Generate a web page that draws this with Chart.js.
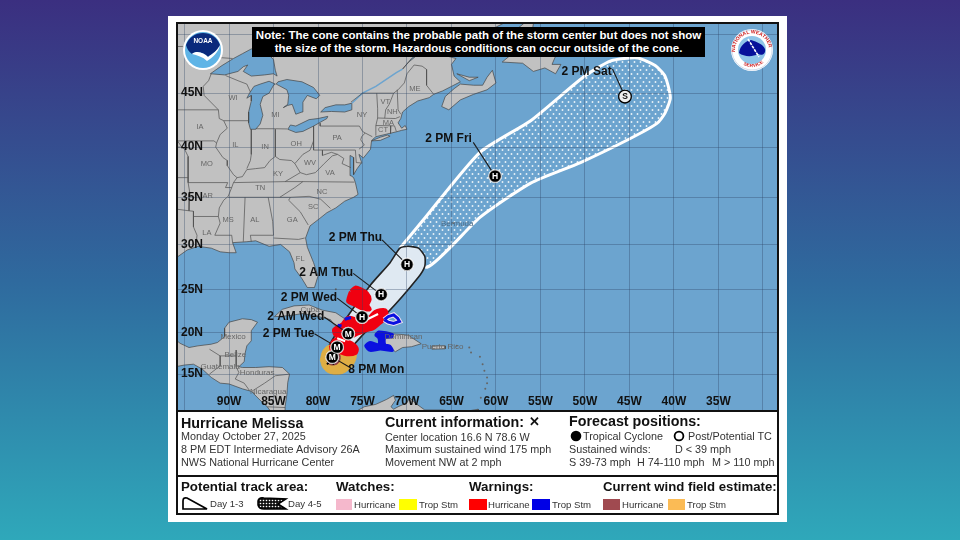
<!DOCTYPE html>
<html><head><meta charset="utf-8">
<script src="https://cdn.jsdelivr.net/npm/chart.js@4"></script>
<style>
html,body{margin:0;padding:0;width:960px;height:540px;overflow:hidden;background:linear-gradient(180deg,#3b2f80 0%,#2f6a9e 52%,#2fa8ba 100%);font-family:"Liberation Sans",Arial,sans-serif}
#stage{position:absolute;left:0;top:0;width:960px;height:540px;filter:blur(.4px)}
#panel{position:absolute;left:168px;top:16px;width:619px;height:506px;background:#fff}
canvas{position:absolute;left:0;top:0}
.box{position:absolute;border:2px solid #111;box-sizing:border-box}
.t{position:absolute;white-space:nowrap;line-height:14px;color:#333;font-size:10.8px}
.b{font-weight:bold;color:#111;font-size:14.3px}
.s{position:absolute;height:11px;top:499px}
.k{font-size:9.6px}
#note{position:absolute;left:252px;top:27px;width:453px;height:30px;background:#000;color:#fff;font-weight:bold;font-size:11.5px;line-height:13px;text-align:center;padding-top:2px;box-sizing:border-box;white-space:nowrap;font-family:"Liberation Sans",Arial,sans-serif}
svg{position:absolute;overflow:visible}
</style></head><body>
<div id="stage">
<div id="panel"></div>
<canvas id="c" width="960" height="540"></canvas>
<div class="box" style="left:176px;top:22px;width:603px;height:390px"></div>
<div class="box" style="left:176px;top:410px;width:603px;height:67px"></div>
<div class="box" style="left:176px;top:475px;width:603px;height:40px"></div>
<div id="note">Note: The cone contains the probable path of the storm center but does not show<br>the size of the storm. Hazardous conditions can occur outside of the cone.</div>

<svg style="left:183px;top:30px" width="40" height="40" viewBox="0 0 40 40">
<circle cx="20" cy="20" r="20" fill="#fff"/><circle cx="20" cy="20" r="18" fill="#5fb4e6"/>
<path d="M3 15A18 18 0 0 1 37 15C36 20 30 23 25 27C21 23 14 20 9 24C6 22 4 19 3 15Z" fill="#0a2a7c"/>
<path d="M9 24C14 20 21 23 25 27C29 24 34 21 37 15C36 22 29 28 24 31C20 27 14 25 9 24Z" fill="#fff"/>
<text x="20" y="13" font-size="6.5" font-weight="bold" fill="#fff" text-anchor="middle" font-family="Liberation Sans">NOAA</text>
</svg>
<svg style="left:731px;top:29px" width="42" height="42" viewBox="0 0 42 42">
<circle cx="21" cy="21" r="21" fill="#fff"/><circle cx="21" cy="21" r="20" fill="none" stroke="#c8d4e8" stroke-width=".8"/>
<defs><path id="arc" d="M4.2 24A17 17 0 1 1 37.8 24"/><path id="arc2" d="M6 29A17 17 0 0 0 36 29"/></defs>
<text font-size="5" font-weight="bold" fill="#d02020" font-family="Liberation Sans"><textPath href="#arc" startOffset="2%">NATIONAL WEATHER</textPath></text>
<text font-size="5" font-weight="bold" fill="#d02020" font-family="Liberation Sans"><textPath href="#arc2" startOffset="25%">SERVICE</textPath></text>
<circle cx="21" cy="21" r="14" fill="#8fc4e8"/>
<path d="M8 24C9 16 15 12 20 11C26 13 32 15 34 20C35 25 31 27 27 25C22 28 13 28 8 24Z" fill="#06109a"/>
<path d="M17 10L28 28" stroke="#fff" stroke-width="1.6" stroke-dasharray="3 1"/>
</svg>

<div class="t b" style="left:181px;top:416px">Hurricane Melissa</div>
<div class="t" style="left:181px;top:429px">Monday October 27, 2025</div>
<div class="t" style="left:181px;top:442px">8 PM EDT Intermediate Advisory 26A</div>
<div class="t" style="left:181px;top:455px">NWS National Hurricane Center</div>

<div class="t b" style="left:385px;top:415px">Current information:</div>
<div class="t b" style="left:529px;top:415px;font-size:13px">✕</div>
<div class="t" style="left:385px;top:430px">Center location 16.6 N 78.6 W</div>
<div class="t" style="left:385px;top:442px">Maximum sustained wind 175 mph</div>
<div class="t" style="left:385px;top:455px">Movement NW at 2 mph</div>

<div class="t b" style="left:569px;top:414px">Forecast positions:</div>
<svg style="left:570px;top:430px" width="13" height="13"><circle cx="6" cy="6" r="5.3" fill="#000"/></svg>
<div class="t" style="left:583px;top:429px">Tropical Cyclone</div>
<svg style="left:673px;top:430px" width="13" height="13"><circle cx="6" cy="6" r="4.4" fill="#fff" stroke="#000" stroke-width="1.8"/></svg>
<div class="t" style="left:688px;top:429px">Post/Potential TC</div>
<div class="t" style="left:569px;top:442px">Sustained winds:</div>
<div class="t" style="left:675px;top:442px">D &lt; 39 mph</div>
<div class="t" style="left:569px;top:455px">S 39-73 mph</div>
<div class="t" style="left:637px;top:455px">H 74-110 mph</div>
<div class="t" style="left:712px;top:455px">M &gt; 110 mph</div>

<div class="t b" style="left:181px;top:480px;font-size:13.3px">Potential track area:</div>
<svg style="left:181px;top:496px" width="28" height="15"><path d="M2 13V5Q2 1 6 2L26 13Z" fill="#fff" stroke="#000" stroke-width="1.7"/></svg>
<div class="t k" style="left:210px;top:497px">Day 1-3</div>
<svg style="left:256px;top:496px" width="32" height="15">
<defs><pattern id="dt" width="3" height="3" patternUnits="userSpaceOnUse"><rect width="3" height="3" fill="#111"/><circle cx="1.5" cy="1.5" r=".8" fill="#fff"/></pattern></defs>
<path d="M2 9V5Q3 1 8 2L30 3L22 8L30 13L8 13Q3 13 2 9Z" fill="url(#dt)" stroke="#000" stroke-width="1.5"/></svg>
<div class="t k" style="left:288px;top:497px">Day 4-5</div>

<div class="t b" style="left:336px;top:480px;font-size:13.3px">Watches:</div>
<div class="s" style="left:336px;width:16px;background:#f5b8cc"></div><div class="t k" style="left:354px;top:498px">Hurricane</div>
<div class="s" style="left:399px;width:18px;background:#ffff00"></div><div class="t k" style="left:419px;top:498px">Trop Stm</div>
<div class="t b" style="left:469px;top:480px;font-size:13.3px">Warnings:</div>
<div class="s" style="left:469px;width:18px;background:#ff0000"></div><div class="t k" style="left:488px;top:498px">Hurricane</div>
<div class="s" style="left:532px;width:18px;background:#0000e6"></div><div class="t k" style="left:552px;top:498px">Trop Stm</div>
<div class="t b" style="left:603px;top:480px;font-size:13.2px">Current wind field estimate:</div>
<div class="s" style="left:603px;width:17px;background:#a04a50"></div><div class="t k" style="left:622px;top:498px">Hurricane</div>
<div class="s" style="left:668px;width:17px;background:#fbbb55"></div><div class="t k" style="left:687px;top:498px">Trop Stm</div>
</div>
<script>
// ---------- axis ----------
const lonTicks=[-95,-90,-85,-80,-75,-70,-65,-60,-55,-50,-45,-40,-35,-30];
const lonLabelled=[-90,-85,-80,-75,-70,-65,-60,-55,-50,-45,-40,-35];
const latTicks=[15,20,25,30,35,40,45,50];
const latLabelled=[15,20,25,30,35,40,45];
// ---------- land (lon,lat) ----------
const northAmerica=[[-97,53],[-97,15.7],[-95,16.1],[-94,16.2],[-93,15.6],[-92,14.6],[-91,13.9],[-90,13.8],[-88.5,13.2],[-87.5,12.9],[-86.5,11.8],[-85.7,11],[-84.9,9.8],[-83,9],[-83.6,10.5],[-83.7,11],[-83.5,12.5],[-83.4,14],[-83.2,15],[-84,15.8],[-85.5,15.9],[-87,15.8],[-88.5,15.8],[-88.9,15.9],[-88.3,16.5],[-88.2,17.5],[-88,18.4],[-87.5,19],[-87.5,20.2],[-86.8,21.2],[-87.5,21.5],[-88.5,21.6],[-90,21.2],[-90.5,20.5],[-90.5,19.5],[-91.3,18.8],[-92,18.6],[-93.5,18.4],[-94.5,18.2],[-95.5,18.7],[-96.2,19.3],[-97,20.5],[-97.5,22],[-97.7,24],[-97.3,26],[-97.3,27.5],[-96,28.5],[-94.7,29.4],[-93.5,29.8],[-92,29.6],[-91,29.2],[-90,29.1],[-89.2,29.1],[-89.6,30.2],[-88,30.3],[-87,30.4],[-85.5,29.8],[-84.2,30],[-83.2,29.2],[-82.7,28],[-82.6,27.3],[-81.8,26.2],[-81.2,25.2],[-80.4,25.2],[-80,26.5],[-80.5,28],[-81.2,29.7],[-81.4,30.7],[-80.9,32],[-79.8,32.8],[-79,33.4],[-78,33.9],[-77,34.6],[-76,35],[-75.5,35.3],[-75.8,36.5],[-76,37],[-76.3,37.2],[-76.4,38],[-76.4,39.2],[-76,39],[-76,37.3],[-75.6,37.9],[-75.1,38.5],[-75.4,39.3],[-74.9,38.95],[-74.1,39.8],[-74,40.5],[-73.9,40.7],[-73.5,41],[-72,41.3],[-71,41.5],[-70.6,41.6],[-70,41.7],[-70.2,42.05],[-70.6,41.8],[-71,42.3],[-70.7,42.7],[-70.5,43.3],[-69.8,43.8],[-68.8,44.3],[-67.5,44.6],[-67,44.9],[-66,45.2],[-65,45.6],[-64.5,45.8],[-64,46],[-64.7,46.5],[-65,47.5],[-64.5,48],[-65.5,48.2],[-64.3,48.6],[-65,49.2],[-67,49.3],[-68.5,48.5],[-69.8,47.7],[-70.5,47.1],[-69.5,48],[-68,48.8],[-67,49.4],[-65,50.2],[-61,50.2],[-58,51.3],[-56,52],[-56,53]];
const novaScotia=[[-66.1,43.8],[-65.3,43.5],[-64,44.4],[-62.5,44.9],[-61,45.3],[-60,45.9],[-60.4,47],[-61,46.4],[-61.5,45.7],[-62.5,45.7],[-64,45.8],[-64.7,45.4],[-65.7,44.7]];
const newfoundland=[[-59.3,47.7],[-58,48.5],[-58.5,49],[-57.5,50.5],[-55.6,51.6],[-56,50],[-54,49.5],[-53,48.7],[-53.7,47.5],[-52.7,47.5],[-53.3,46.7],[-54.5,47.2],[-55.8,46.9],[-57,47.6]];
const peiIsland=[[-64.4,46.7],[-63,46.4],[-62,46.4],[-63,46.1]];
const anticosti=[[-64.2,49.9],[-62,49.4],[-63,49.3]];
const longIsland=[[-74,40.6],[-73,40.95],[-72.2,41.15],[-71.9,41.05],[-73,40.65]];
const cuba=[[-84.9,21.85],[-84,22.7],[-82.7,23.1],[-81,23.2],[-79.5,22.6],[-78,22.3],[-77,21.6],[-75.6,20.9],[-74.2,20.2],[-75,19.9],[-77.7,19.85],[-77.2,20.6],[-78.2,20.9],[-78.6,21.5],[-80.5,22],[-81.8,22.2],[-83,22],[-84,21.9]];
const jamaica=[[-78.3,18.3],[-77,18.45],[-76.3,18.1],[-77,17.8],[-78.2,18]];
const hispaniola=[[-74.4,18.4],[-72.8,18.5],[-72.7,19],[-73.4,19.7],[-72.3,19.85],[-70.5,19.75],[-69.8,19.65],[-69.2,19.2],[-68.4,18.65],[-69.5,18.3],[-70.5,18.2],[-71.3,17.7],[-71.8,18.1],[-73,18.1],[-74.4,18.2]];
const puertoRico=[[-67.2,18.4],[-65.7,18.4],[-65.7,18.05],[-67.2,18]];
const southAmerica=[[-76,9],[-75.6,10.5],[-74.8,11],[-73.5,11.3],[-72.3,11.9],[-71.5,12.4],[-71.3,11.8],[-71.8,11],[-71.5,10.7],[-71,11],[-70,11.5],[-69.7,12.1],[-69,11.4],[-68,10.6],[-66,10.6],[-64,10.3],[-62,10.7],[-62,9]];
const islandLon=[-78,-77.3,-75.5,-76,-74,-73,-63,-62.8,-61.8,-61.5,-61.3,-61,-61,-61.2,-61.7,-64.8,-64.4];
const islandLat=[25,26.5,24,24.5,22.8,21.8,18.2,17.6,17.1,16.2,15.4,14.6,13.9,13.2,12.1,32.3,18.4];
// ---------- lakes ----------
const superior=[[-92.1,46.7],[-90.5,46.6],[-89,46.9],[-88.4,47.3],[-87.9,47.45],[-88.4,46.9],[-87.5,46.5],[-86,46.6],[-85,46.7],[-84.6,46.5],[-84.8,47],[-85,47.9],[-86,48.7],[-87.5,48.8],[-88.5,48.4],[-89.5,48],[-90.8,47.4]];
const michigan=[[-87.6,41.7],[-87,41.7],[-86.5,42.2],[-86.2,43],[-86.5,44],[-86.2,44.7],[-85.5,45],[-85,45.7],[-84.8,45.8],[-85.5,46.05],[-86.5,45.8],[-87.2,45.6],[-87.7,45],[-88,44.55],[-87.5,44.8],[-87.5,44.3],[-87.8,43.3],[-87.8,42.3]];
const huron=[[-84.7,45.8],[-83.5,45.3],[-83.3,44.8],[-83.4,44],[-83.9,43.7],[-83.4,43.9],[-82.9,44],[-82.5,43.1],[-81.8,43.3],[-81.7,44.2],[-81.2,44.8],[-80.2,44.5],[-79.8,44.8],[-80.5,45.5],[-81.8,46],[-83.5,46.2],[-84.5,46]];
const erie=[[-83.4,41.7],[-82.5,41.4],[-81.7,41.5],[-80.5,42],[-79,42.7],[-78.9,42.9],[-80,42.7],[-81,42.6],[-82.5,42],[-83.1,42.1]];
const ontario=[[-79.7,43.3],[-78.5,43.35],[-77,43.3],[-76.2,43.5],[-76.2,44.1],[-77,43.95],[-78,43.95],[-79.2,43.7]];
const stLawrence=[[-76.2,44.1],[-75,45],[-73.5,45.6],[-71.2,46.8],[-70.5,47.1]];
// ---------- borders ----------
const borders=[
[[-97,49],[-95.2,49],[-94.6,48.7],[-93,48.6],[-91.5,48.1],[-89.6,48]],
[[-76.3,44.2],[-75,45],[-74.7,45],[-71.5,45],[-71,45.3],[-70.3,45.9],[-70,46.7],[-69.2,47.45],[-68.3,47.35],[-67.8,47.07],[-67.8,45.7],[-67.4,45.3],[-67,44.9]],
[[-96.5,43.5],[-91.2,43.5]],
[[-92,46.7],[-92.3,46.1],[-92.9,45.6],[-92.8,44.8],[-91.2,43.5],[-91.1,42.7],[-90.6,42.5],[-90.2,41.8],[-91,41.2],[-91.4,40.4],[-91.5,40],[-90.7,39],[-90.2,38.7],[-90.2,38.2],[-89.5,37.3],[-89.1,37],[-89.5,36.5],[-89.7,36],[-90.1,35.1],[-90.6,34.7],[-91.1,33.9],[-91.2,33],[-91,32.3],[-91.6,31],[-89.7,31],[-89.6,30.2]],
[[-95.8,40.6],[-91.7,40.6],[-91.4,40.4]],
[[-94.6,36.5],[-90.15,36.5],[-90.4,36],[-89.7,36]],
[[-94.6,39.1],[-94.6,36.5],[-94.4,35.4],[-94.5,33.6],[-94,33.55],[-94,33],[-94,31.9],[-93.6,31],[-93.7,30.1],[-93.8,29.7]],
[[-94,33],[-91.2,33]],[[-94.5,33.6],[-97,33.9]],[[-95.3,40],[-97,40]],[[-95.8,40.6],[-96,41.5],[-96.5,42.5],[-96.5,45.3]],[[-94.6,37],[-97,37]],[[-94.6,39.1],[-95,39.8],[-95.3,40],[-95.8,40.6]],
[[-90.4,46.55],[-89,46.1],[-88,45.8],[-87.6,45.1]],[[-90.6,42.5],[-87.8,42.5]],[[-87.5,41.7],[-87.5,39.3],[-87.6,38.7],[-88,37.9]],[[-87,41.75],[-84.8,41.75],[-83.45,41.73]],[[-84.8,41.7],[-84.8,39.1]],
[[-89.1,37],[-88.5,37.1],[-88,37.8],[-87,37.9],[-86,38],[-85.4,38.7],[-84.8,39.1],[-84.3,38.8],[-83,38.7],[-82.6,38.4],[-82,39],[-81.7,39.3],[-80.9,39.7],[-80.5,40.6]],
[[-80.5,42],[-80.5,39.72],[-75.8,39.72]],[[-79.76,42.27],[-79.76,42],[-75.35,42],[-75,41.5],[-74.7,41.35],[-75.1,41],[-75.2,40.7],[-74.8,40.2],[-75.4,39.8]],
[[-74.7,41.35],[-73.9,41]],[[-73.5,41.1],[-73.5,42.05],[-73.3,42.75],[-73.3,43.6],[-73.4,45]],[[-72.5,42.73],[-72.4,43.5],[-72,44],[-71.5,45]],[[-73.3,42.75],[-71.3,42.7],[-70.8,42.87]],
[[-73.5,42.05],[-71.4,42.02],[-71.2,41.5]],[[-71.8,42.02],[-71.85,41.3]],[[-70.7,43.1],[-71,43.5],[-71.1,45.3]],
[[-82,37.5],[-81.3,37.3],[-80.3,37.5],[-79.3,38.4],[-78.4,39.15],[-77.8,39.3]],[[-82.6,38.4],[-82,37.5],[-83.7,36.6]],[[-89.5,36.5],[-83.7,36.6],[-81.7,36.6],[-75.9,36.55]],
[[-77.8,39.3],[-77.1,38.9],[-77.3,38.4],[-76.3,38]],[[-79.5,39.7],[-79.5,39.2],[-78.5,39.5],[-77.8,39.3]],[[-75.8,39.72],[-75.7,38.5],[-75.05,38.45]],
[[-81.7,36.6],[-82.6,36],[-84.3,35]],[[-90.1,35],[-84.3,35],[-83.1,35],[-81,35.1],[-79.7,34.8],[-78.6,33.85]],[[-83.1,35],[-83.3,34.7],[-82,33.5],[-81.1,32.1]],
[[-85.6,35],[-85.1,32.5],[-85,31],[-87.6,31],[-87.5,30.3]],[[-85,30.7],[-82.2,30.55],[-81.5,30.7]],[[-88.2,35],[-88.4,30.3]],
[[-92.2,18],[-91,17.2],[-91,16],[-92.2,15]],[[-89.2,17.9],[-89.2,15.9]],[[-91,17.2],[-89.2,17.2]],[[-89.3,14.4],[-88.3,13.9],[-87.7,13]],[[-89.2,15.9],[-88.9,15.2],[-89.3,14.4]],[[-87.3,13],[-86,13.9],[-84.8,14.8],[-83.2,15]],[[-85.7,11],[-83.7,10.9]]
];
// ---------- cone ----------
const coneDay45=[[-70.8,29.6],[-68.2,32.6],[-61.8,39.5],[-56.1,42.5],[-50.2,46.4],[-47.1,47.8],[-44.1,48.05],[-42.1,47.4],[-41,46.5],[-40.4,44.6],[-41,43.2],[-41.9,42.25],[-44.9,40.83],[-50.5,38.5],[-56.1,36.45],[-61.8,32.9],[-67.7,27.5]];
const coneDay13=[[-78.3,17],[-79,17.85],[-77,21.4],[-74.1,25.5],[-71.9,28],[-70.8,29.6],[-69.9,29.8],[-68.7,29.6],[-68,28.7],[-68,27.6],[-68.7,26.4],[-72.2,22.3],[-74.7,20],[-77,17.3],[-77.7,16.5]];
// ---------- warnings and wind field ----------
const windStorm=[[-79.75,16.7],[-79.4,17.9],[-78.65,18.5],[-76.95,18.5],[-75.8,17.65],[-75.8,16.7],[-76.4,15.7],[-77.5,15],[-78.65,15.1],[-79.4,15.7]];
const windHurricane=[[-78.9,17.5],[-77.9,17.8],[-77.5,17],[-77.9,16.2],[-78.9,16.3]];
const hurricaneBahamas=[[-76.3,24.75],[-75.8,25.2],[-75.2,25],[-74.5,24.55],[-74.2,23.85],[-74.45,23.2],[-74.2,22.7],[-75.05,22.8],[-75.8,23.2],[-76.6,23.6],[-76.5,24.15]];
const hurricaneCuba=[[-77.3,20.9],[-76.6,21.7],[-75.6,21.5],[-74.35,21.6],[-73.6,22.4],[-72.45,22.6],[-72.35,21.8],[-73.2,21],[-73.8,20.5],[-74.5,20.3],[-75.45,19.9],[-76.6,19.4],[-77.9,19.55],[-78.2,20.3]];
const hurricaneJamaica=[[-78.55,18.5],[-78.1,19.1],[-77.15,19.1],[-76.2,18.7],[-75.65,18.1],[-75.8,17.55],[-76.75,17.4],[-77.7,17.7],[-78.45,17.9]];
const stormHaiti=[[-73.6,19.7],[-73.2,20.1],[-71.6,19.8],[-71.7,19.4],[-72.45,19.3],[-72.45,18.6],[-71.9,18.4],[-71.6,17.8],[-73,17.97],[-74.15,17.8],[-74.7,18.4],[-74.15,18.85],[-73.2,18.6],[-73.2,19.3]];
const stormTurks=[[-72.55,21.5],[-72.1,21.85],[-71.5,22.05],[-71.05,21.65],[-70.85,21.3],[-71.5,21.05],[-72.1,21.2],[-72.55,21.5]];
const stormCubaA=[[-77,21.55],[-76.3,21.75]];
const stormCubaB=[[-77.8,20.85],[-77.35,20.75]];
const coneGapA=[[-74.9,21.3],[-73.25,22.15]];
const coneGapB=[[-77.85,19.3],[-76.95,18.95]];
// ---------- storm positions ----------
const stormLabels=["8 PM Mon","2 PM Tue","2 AM Wed","2 PM Wed","2 AM Thu","2 PM Thu","2 PM Fri","2 PM Sat"];
const stormLetters=["M","M","M","H","H","H","H","S"];
const stormLon=[-78.4,-77.85,-76.6,-75.05,-72.9,-70,-60.1,-45.5];
const stormLat=[17.05,18.25,19.85,21.8,24.4,27.8,37.15,44.7];
const leaderLon=[-76.5,-80.4,-79.3,-77.85,-76.05,-72.8,-62.55,-46.9];
const leaderLat=[15.85,19.85,21.8,24,26.8,30.5,40.46,47.1];
const labelAlign=["left","right","right","right","right","right","right","right"];
const labelLon=[-76.6,-80.4,-79.3,-77.85,-76.05,-72.8,-62.7,-47];
const labelLat=[15.55,19.85,21.8,24.1,26.9,30.7,40.8,46.9];
const currentLon=[-78.6];const currentLat=[16.6];
// ---------- place labels ----------
const placeNames=["WI","IA","IL","IN","OH","MI","PA","NY","VT","NH","MA","CT","ME","MO","WV","VA","KY","TN","NC","SC","AR","MS","AL","GA","LA","FL","Mexico","Belize","Guatemala","Honduras","Nicaragua","Cuba","Dominican","Puerto Rico","Bermuda"];
const placeLon=[-89.55,-93.26,-89.3,-85.95,-82.45,-84.8,-77.85,-75.05,-72.45,-71.65,-72.1,-72.7,-69.1,-92.5,-80.9,-78.65,-84.5,-86.5,-79.55,-80.55,-92.4,-90.1,-87.1,-82.9,-92.5,-82,-89.55,-89.3,-91,-86.85,-85.6,-80.9,-70.4,-66,-64.35];
const placeLat=[44.55,41.95,40.2,40,40.3,43,40.85,43,44.2,43.3,42.3,41.65,45.4,38.4,38.5,37.5,37.4,36,35.55,34.05,35.1,32.6,32.6,32.6,31.2,28.45,19.45,17.3,15.85,15.1,12.9,22.6,19.5,18.3,32.2];

// ---------- mercator scale ----------
const Linear=Chart.LinearScale||Chart.registry.getScale('linear');
const merc=v=>Math.log(Math.tan(Math.PI/4+v*Math.PI/360));
const unmerc=m=>(2*Math.atan(Math.exp(m))-Math.PI/2)*180/Math.PI;
class MercatorScale extends Linear{
  getPixelForValue(v){const a=merc(this.min),b=merc(this.max);return this.bottom+(merc(v)-a)/(b-a)*(this.top-this.bottom);}
  getValueForPixel(p){const a=merc(this.min),b=merc(this.max);return unmerc(a+(this.bottom-p)/(this.bottom-this.top)*(b-a));}
}
MercatorScale.id='mercator';MercatorScale.defaults=Linear.defaults;
Chart.register(MercatorScale);

// ---------- helpers ----------
const pts=a=>a.map(p=>({x:p[0],y:p[1]}));
const closed=a=>pts(a.concat([a[0]]));
const LAND='#c1c1c1',COAST='#454545',OCEAN='#6ca4cf';
function poly(a,fillC,line,w,tension){return {data:closed(a),showLine:true,fill:'shape',backgroundColor:fillC,borderColor:line,borderWidth:w,pointRadius:0,tension:tension||0};}
function path(a,line,w){return {data:pts(a),showLine:true,fill:false,borderColor:line,borderWidth:w,pointRadius:0};}
const tile=document.createElement('canvas');tile.width=6;tile.height=8;
const tc=tile.getContext('2d');tc.fillStyle='rgba(255,255,255,.85)';
[[1.5,2],[4.5,6]].forEach(d=>{tc.beginPath();tc.arc(d[0],d[1],.95,0,7);tc.fill();});
const stipple=document.getElementById('c').getContext('2d').createPattern(tile,'repeat');

const ds=[];
[northAmerica,novaScotia,newfoundland,peiIsland,anticosti,longIsland,cuba,jamaica,hispaniola,puertoRico,southAmerica].forEach(a=>ds.push(poly(a,LAND,COAST,.7)));
[superior,michigan,huron,erie,ontario].forEach(a=>ds.push(poly(a,OCEAN,COAST,.7)));
ds.push(path(stLawrence,OCEAN,1.5));
borders.forEach(b=>ds.push(path(b,'#505050',.7)));
ds.push({data:islandLon.map((x,i)=>({x,y:islandLat[i]})),pointRadius:1,pointBackgroundColor:'#666',pointBorderWidth:0,showLine:false});
ds.push(poly(coneDay45,stipple,'#fff',3,.2));
ds.push(poly(coneDay13,'#dfe9f2','#222',1.6,.2));
ds.push(poly(windStorm,'#dfae44','#dfae44',1,.4));
ds.push(poly(windHurricane,'#8c3f42','#8c3f42',1,.4));
[hurricaneBahamas,hurricaneCuba,hurricaneJamaica].forEach(a=>ds.push(poly(a,'#f00010','#f00010',4,.3)));
ds.push(path(stormTurks,'#f2e4f0',5));ds.push(path(stormTurks,'#0a10e0',3));
ds.push(poly(stormHaiti,'#0a10e0','#0a10e0',2,.25));
ds.push(path(stormCubaA,'#0a10e0',3));ds.push(path(stormCubaB,'#0a10e0',3));
ds.push(path(coneGapA,'#fff',2.2));ds.push(path(coneGapB,'#fff',2.2));
stormLon.forEach((x,i)=>ds.push(path([[leaderLon[i],leaderLat[i]],[x,stormLat[i]]],'#1a1a1a',1.1)));
ds.push({data:currentLon.map((x,i)=>({x,y:currentLat[i]})),pointStyle:'crossRot',pointRadius:5,pointBorderColor:'#000',pointBorderWidth:2,showLine:false});
ds.push({data:stormLon.map((x,i)=>({x,y:stormLat[i]})),showLine:false,pointRadius:6.3,
  pointBackgroundColor:stormLetters.map(l=>l==='S'?'#f0f0f0':'#000'),pointBorderColor:stormLetters.map(l=>l==='S'?'#000':'rgba(255,255,255,.7)'),pointBorderWidth:1.2});
const stormIndex=ds.length-1;
ds.forEach((d,i)=>{d.order=-i;});

const mapPlugin={id:'mapPlugin',
 beforeDraw(ch){const a=ch.chartArea,c=ch.ctx;c.save();c.fillStyle=OCEAN;c.fillRect(a.left,a.top,a.width,a.height);c.restore();},
 afterDraw(ch){const c=ch.ctx,X=ch.scales.x,Y=ch.scales.y,a=ch.chartArea;
  c.save();c.beginPath();c.rect(a.left,a.top,a.width,a.height);c.clip();
  c.textBaseline='middle';c.textAlign='center';
  placeNames.forEach((n,i)=>{c.font=(n.length>2?'8':'7.5')+'px "Liberation Sans"';c.fillStyle=n==='Bermuda'?'#4a6a85':'#666';c.fillText(n,X.getPixelForValue(placeLon[i]),Y.getPixelForValue(placeLat[i]));});
  ch.getDatasetMeta(stormIndex).controller.draw();
  stormLabels.forEach((n,i)=>{c.font='bold 12px "Liberation Sans"';c.fillStyle='#111';c.textAlign=labelAlign[i];c.fillText(n,X.getPixelForValue(labelLon[i]),Y.getPixelForValue(labelLat[i]));});
  c.textAlign='center';
  stormLetters.forEach((n,i)=>{c.font='bold 8.5px "Liberation Sans"';c.fillStyle=n==='S'?'#111':'#fff';c.fillText(n,X.getPixelForValue(stormLon[i]),Y.getPixelForValue(stormLat[i])+.5);});
  c.restore();}
};
const gridColor='rgba(45,70,100,.35)';
new Chart(document.getElementById('c'),{
 type:'scatter',
 data:{datasets:ds},
 plugins:[mapPlugin],
 options:{responsive:false,animation:false,events:[],
  layout:{padding:{left:177,right:182,top:23,bottom:130}},
  plugins:{legend:{display:false},tooltip:{enabled:false},filler:{propagate:false}},
  scales:{
   x:{type:'linear',position:'bottom',min:-95.85,max:-28.3,
    afterBuildTicks:s=>{s.ticks=lonTicks.map(v=>({value:v}));},
    afterFit:s=>{s.height=0;s._computeLabelArea=()=>undefined;},
    grid:{color:gridColor,lineWidth:1,drawTicks:false,z:1},border:{display:false},
    ticks:{z:2,padding:-16,autoSkip:false,maxRotation:0,font:{family:'"Liberation Sans"',size:12,weight:'bold'},color:'#111',
      callback:v=>lonLabelled.includes(v)?(-v)+'W':''}},
   y:{type:'mercator',position:'left',min:10.6,max:50.9,
    afterBuildTicks:s=>{s.ticks=latTicks.map(v=>({value:v}));},
    afterFit:s=>{s.width=0;},
    grid:{color:gridColor,lineWidth:1,drawTicks:false,z:1},border:{display:false},
    ticks:{z:2,mirror:true,padding:4,autoSkip:false,font:{family:'"Liberation Sans"',size:12,weight:'bold'},color:'#111',
      callback:v=>latLabelled.includes(v)?v+'N':''}}
  }}
});
</script>
</body></html>
